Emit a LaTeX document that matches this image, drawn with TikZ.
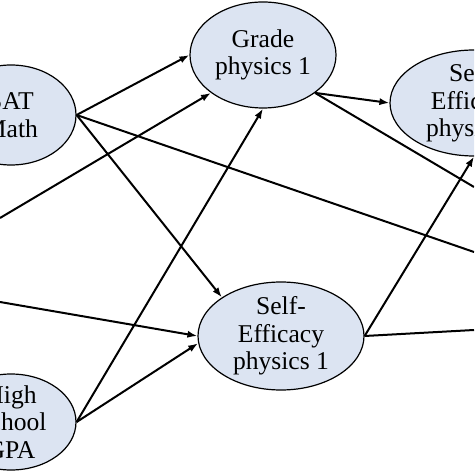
\documentclass[tikz,border=0pt]{standalone}
\usepackage{fontspec}
\setmainfont{Liberation Serif}
\usetikzlibrary{shapes.geometric,arrows.meta}
\definecolor{ovalfill}{RGB}{220,228,242}
\begin{document}
\begin{tikzpicture}[x=0.5pt,y=-0.5pt,line width=1pt,
    >={Latex[length=5pt,width=3.6pt]},
    var/.style={ellipse,draw=black,fill=ovalfill,line width=0.6pt,inner sep=-4pt,
        align=center,font=\fontsize{12.8}{13.8}\selectfont}]
    \useasboundingbox (0,0) rectangle (474,474);
    \clip (0,0) rectangle (474,474);

    \node[var,minimum width=65pt,minimum height=50pt] at (11,115) (sat) {SAT\\Math};
    \node[var,minimum width=65pt,minimum height=48pt] at (11,422) (gpa) {High\\School\\GPA};

    \node[var,minimum width=73pt,minimum height=53pt] at (263,55) (gp1) {Grade\\physics 1};
    \node[var,minimum width=83pt,minimum height=54pt] at (281,336) (se1) {Self-\\Efficacy\\physics 1};

    \node[var,minimum width=84pt,minimum height=53pt] at (474,103) (se2) {Self-\\Efficacy\\physics 2};

    % lines coming in from the left / going out to the right
    \coordinate (l1) at (0,218);
    \coordinate (l2) at (0,302);
    \coordinate (r1) at (474,252);
    \coordinate (r2) at (474,187);
    \coordinate (r3) at (474,330);

	\path[->] (sat.east) edge (gp1.west);
	\path[->] (sat.east) edge (se1.north west);
	\path[] (sat.east) edge (r1);

	\path[->] (l1) edge (gp1.south west);
	\path[->] (l2) edge (se1.west);

	\path[->] (gpa.east) edge (gp1.south);
	\path[->] (gpa.east) edge (se1.185);

	\path[->] (gp1.south east) edge (se2.west);
	\path[] (gp1.south east) edge (r2);

	\path[->] (se1.east) edge (se2.south);
	\path[] (se1.east) edge (r3);
\end{tikzpicture}
\end{document}
